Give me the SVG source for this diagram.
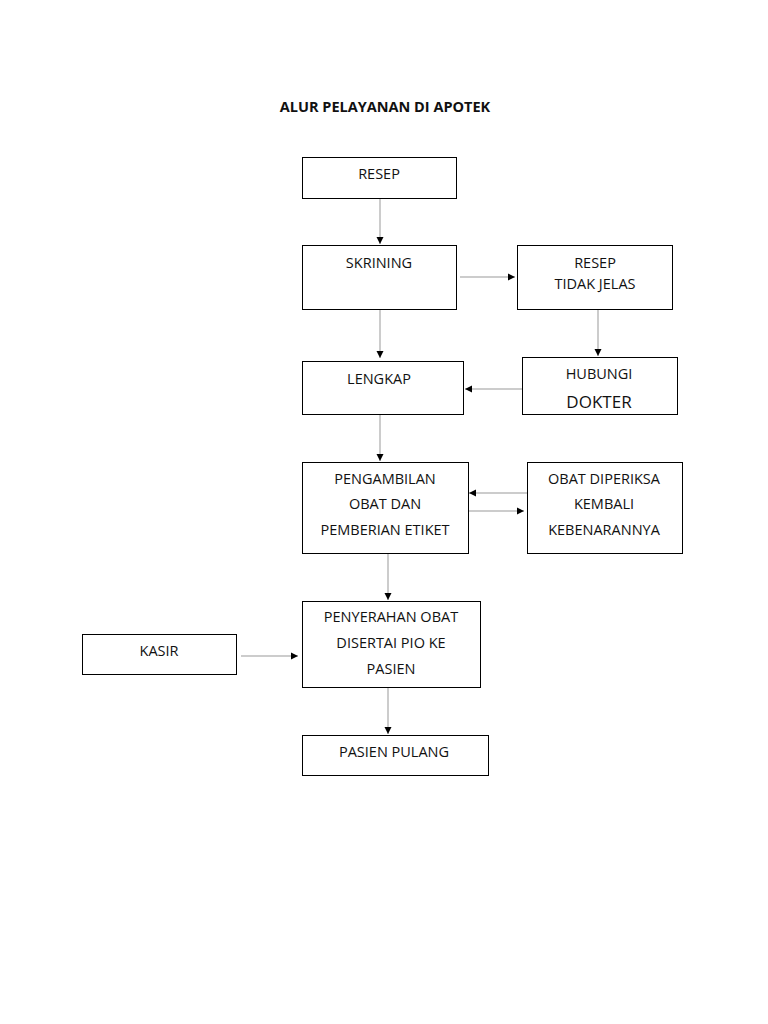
<svg xmlns="http://www.w3.org/2000/svg" width="768" height="1024" viewBox="0 0 768 1024">
<style>
.box{fill:#fff;stroke:#000;stroke-width:1}
.t{font-family:"Open Sans","Liberation Sans",sans-serif;font-size:14.5px;fill:#111;text-anchor:middle}
.big{font-size:17px}
.title{font-weight:bold;font-size:14.5px}
.ln{stroke:#999;stroke-width:1;fill:none}
</style>
<defs>
<marker id="ah" markerWidth="8" markerHeight="8" refX="7" refY="4" orient="auto" markerUnits="userSpaceOnUse">
<path d="M0,0.5 L7,4 L0,7.5 Z" fill="#000"/>
</marker>
</defs>
<rect width="768" height="1024" fill="#fff"/>
<text class="t title" x="385" y="112">ALUR PELAYANAN DI APOTEK</text>
<g id="connectors">
<line class="ln" x1="380" y1="198" x2="380" y2="244" marker-end="url(#ah)"/>
<line class="ln" x1="460" y1="277" x2="515" y2="277" marker-end="url(#ah)"/>
<line class="ln" x1="598" y1="309" x2="598" y2="356" marker-end="url(#ah)"/>
<line class="ln" x1="380" y1="309" x2="380" y2="358" marker-end="url(#ah)"/>
<line class="ln" x1="522" y1="389" x2="465" y2="389" marker-end="url(#ah)"/>
<line class="ln" x1="380" y1="414" x2="380" y2="461" marker-end="url(#ah)"/>
<line class="ln" x1="527" y1="493" x2="469" y2="493" marker-end="url(#ah)"/>
<line class="ln" x1="468" y1="511" x2="524" y2="511" marker-end="url(#ah)"/>
<line class="ln" x1="388" y1="553" x2="388" y2="600" marker-end="url(#ah)"/>
<line class="ln" x1="241" y1="656" x2="298" y2="656" marker-end="url(#ah)"/>
<line class="ln" x1="388" y1="687" x2="388" y2="734" marker-end="url(#ah)"/>
</g>
<g id="resep"><rect class="box" x="302.5" y="157.5" width="154" height="41"/><text class="t" x="379" y="179">RESEP</text></g>
<g id="skrining"><rect class="box" x="302.5" y="245.5" width="154" height="64"/><text class="t" x="379" y="268">SKRINING</text></g>
<g id="resep-tidak-jelas"><rect class="box" x="517.5" y="245.5" width="155" height="64"/><text class="t" x="595" y="268">RESEP</text><text class="t" x="595" y="289">TIDAK JELAS</text></g>
<g id="lengkap"><rect class="box" x="302.5" y="361.5" width="161" height="53"/><text class="t" x="379" y="384">LENGKAP</text></g>
<g id="hubungi-dokter"><rect class="box" x="522.5" y="357.5" width="155" height="57"/><text class="t" x="599" y="379">HUBUNGI</text><text class="t big" x="599" y="408">DOKTER</text></g>
<g id="pengambilan"><rect class="box" x="302.5" y="462.5" width="166" height="91"/><text class="t" x="385" y="484">PENGAMBILAN</text><text class="t" x="385" y="509">OBAT DAN</text><text class="t" x="385" y="535">PEMBERIAN ETIKET</text></g>
<g id="obat-diperiksa"><rect class="box" x="527.5" y="462.5" width="155" height="91"/><text class="t" x="604" y="484">OBAT DIPERIKSA</text><text class="t" x="604" y="509">KEMBALI</text><text class="t" x="604" y="535">KEBENARANNYA</text></g>
<g id="kasir"><rect class="box" x="82.5" y="634.5" width="154" height="40"/><text class="t" x="159" y="656">KASIR</text></g>
<g id="penyerahan"><rect class="box" x="302.5" y="601.5" width="178" height="86"/><text class="t" x="391" y="622">PENYERAHAN OBAT</text><text class="t" x="391" y="648">DISERTAI PIO KE</text><text class="t" x="391" y="674">PASIEN</text></g>
<g id="pasien-pulang"><rect class="box" x="302.5" y="735.5" width="186" height="40"/><text class="t" x="394" y="757">PASIEN PULANG</text></g>
</svg>
